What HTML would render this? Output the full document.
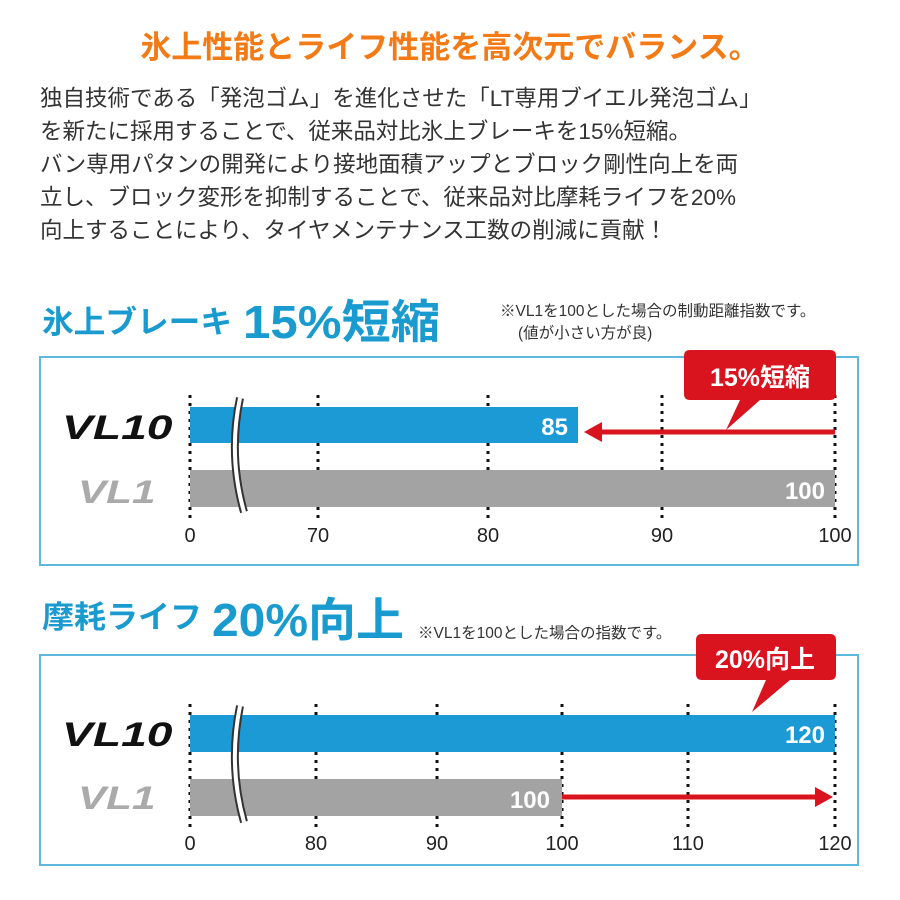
<!DOCTYPE html>
<html><head><meta charset="utf-8"><style>
body{margin:0;width:900px;height:900px;background:#fff;position:relative;overflow:hidden;font-family:"Liberation Sans","Noto Sans CJK JP",sans-serif}
.a{position:absolute;white-space:nowrap}
.p{left:40px;font-size:22.5px;color:#333;line-height:33px}
</style></head><body>
<div class="a" style="left:0;width:900px;text-align:center;top:22px;font-size:31px;font-weight:bold;color:#f47a16">氷上性能とライフ性能を高次元でバランス。</div>
<div class="a p" style="top:82px">独自技術である「発泡ゴム」を進化させた「LT専用ブイエル発泡ゴム」<br>を新たに採用することで、従来品対比氷上ブレーキを15%短縮。<br>バン専用パタンの開発により接地面積アップとブロック剛性向上を両<br>立し、ブロック変形を抑制することで、従来品対比摩耗ライフを20%<br>向上することにより、タイヤメンテナンス工数の削減に貢献！</div>
<svg class="a" style="left:0;top:0" width="900" height="900" font-family="Liberation Sans,Noto Sans CJK JP,sans-serif">
<text x="42" y="333" font-size="31" font-weight="bold" fill="#1a9bd0" textLength="190" lengthAdjust="spacingAndGlyphs">氷上ブレーキ</text>
<text x="243" y="338" font-size="46" font-weight="bold" fill="#1a9bd0" textLength="197" lengthAdjust="spacingAndGlyphs">15%短縮</text>
<text x="500" y="316" font-size="15.5" fill="#333">※VL1を100とした場合の制動距離指数です。</text>
<text x="518" y="338" font-size="15.5" fill="#333">(値が小さい方が良)</text>
<rect x="40" y="357" width="818" height="208" fill="none" stroke="#5cb8dc" stroke-width="2"/>
<g stroke="#111" stroke-width="3" stroke-dasharray="3 5">
<line x1="190" y1="395" x2="190" y2="520"/><line x1="318" y1="395" x2="318" y2="520"/><line x1="488" y1="395" x2="488" y2="520"/><line x1="662" y1="395" x2="662" y2="520"/><line x1="835" y1="395" x2="835" y2="520"/></g>
<rect x="190" y="407" width="388" height="36" fill="#1c9ad6"/>
<rect x="190" y="470" width="645" height="37" fill="#a3a3a3"/>
<path d="M240 398 Q228 455 244 512" stroke="#333" stroke-width="8" fill="none"/><path d="M240 398 Q228 455 244 512" stroke="#fff" stroke-width="4" fill="none"/>
<text x="568" y="435" font-size="24" font-weight="bold" fill="#fff" text-anchor="end">85</text>
<text x="825" y="499" font-size="24" font-weight="bold" fill="#fff" text-anchor="end">100</text>
<text transform="translate(62,439) scale(1.36,1)" font-size="34" font-weight="900" font-style="italic" fill="#111">VL10</text>
<text transform="translate(78,503) scale(1.32,1)" font-size="32" font-weight="900" font-style="italic" fill="#aaa">VL1</text>
<line x1="600" y1="432" x2="835" y2="432" stroke="#d9141e" stroke-width="5"/><path d="M584 432 L602 422 L602 442Z" fill="#d9141e"/>
<path d="M684 350 H830 Q836 350 836 356 V394 Q836 400 830 400 H760 L726 430 L740 400 H690 Q684 400 684 394 V356 Q684 350 690 350Z" fill="#d9141e"/>
<text x="760" y="386" font-size="25" font-weight="bold" fill="#fff" text-anchor="middle">15%短縮</text>
<g font-size="20" fill="#222" text-anchor="middle"><text x="190" y="542">0</text><text x="318" y="542">70</text><text x="488" y="542">80</text><text x="662" y="542">90</text><text x="835" y="542">100</text></g>

<text x="42" y="628" font-size="31" font-weight="bold" fill="#1a9bd0" textLength="160" lengthAdjust="spacingAndGlyphs">摩耗ライフ</text>
<text x="212" y="636" font-size="46" font-weight="bold" fill="#1a9bd0" textLength="192" lengthAdjust="spacingAndGlyphs">20%向上</text>
<text x="418" y="638" font-size="15.5" fill="#333">※VL1を100とした場合の指数です。</text>
<rect x="40" y="655" width="818" height="210" fill="none" stroke="#5cb8dc" stroke-width="2"/>
<g stroke="#111" stroke-width="3" stroke-dasharray="3 5">
<line x1="190" y1="704" x2="190" y2="828"/><line x1="316" y1="704" x2="316" y2="828"/><line x1="437" y1="704" x2="437" y2="828"/><line x1="562" y1="704" x2="562" y2="828"/><line x1="688" y1="704" x2="688" y2="828"/><line x1="835" y1="704" x2="835" y2="828"/></g>
<rect x="190" y="715" width="645" height="37" fill="#1c9ad6"/>
<rect x="190" y="779" width="372" height="37" fill="#a3a3a3"/>
<path d="M240 706 Q228 765 244 822" stroke="#333" stroke-width="8" fill="none"/><path d="M240 706 Q228 765 244 822" stroke="#fff" stroke-width="4" fill="none"/>
<text x="825" y="743" font-size="24" font-weight="bold" fill="#fff" text-anchor="end">120</text>
<text x="550" y="808" font-size="24" font-weight="bold" fill="#fff" text-anchor="end">100</text>
<text transform="translate(62,746) scale(1.36,1)" font-size="34" font-weight="900" font-style="italic" fill="#111">VL10</text>
<text transform="translate(78,809) scale(1.32,1)" font-size="32" font-weight="900" font-style="italic" fill="#aaa">VL1</text>
<line x1="562" y1="797" x2="815" y2="797" stroke="#d9141e" stroke-width="5"/><path d="M833 797 L815 787 L815 807Z" fill="#d9141e"/>
<path d="M696 634 H830 Q836 634 836 640 V674 Q836 680 830 680 H790 L752 712 L766 680 H702 Q696 680 696 674 V640 Q696 634 702 634Z" fill="#d9141e"/>
<text x="765" y="668" font-size="25" font-weight="bold" fill="#fff" text-anchor="middle">20%向上</text>
<g font-size="20" fill="#222" text-anchor="middle"><text x="190" y="850">0</text><text x="316" y="850">80</text><text x="437" y="850">90</text><text x="562" y="850">100</text><text x="688" y="850">110</text><text x="835" y="850">120</text></g>
</svg>
</body></html>
